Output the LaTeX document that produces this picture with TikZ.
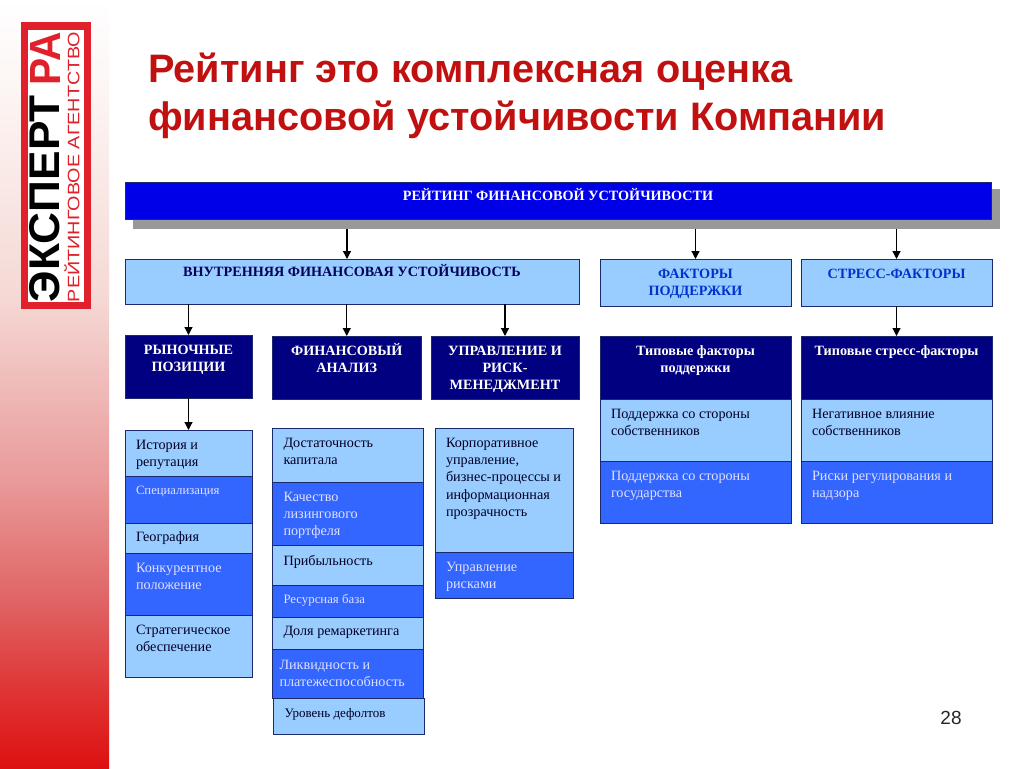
\documentclass[tikz,border=0pt]{standalone}
\usepackage{fontspec}
\setmainfont{Liberation Serif}
\newfontfamily\arialf{Liberation Sans}
\usetikzlibrary{arrows.meta}
\definecolor{topblue}{HTML}{0000E8}
\definecolor{lightb}{HTML}{99CCFF}
\definecolor{navy}{HTML}{000080}
\definecolor{midb}{HTML}{3366FF}
\definecolor{edgeb}{HTML}{1A2A6C}
\definecolor{titlered}{HTML}{C01010}
\definecolor{logored}{HTML}{E0202A}
\definecolor{subblue}{HTML}{0033CC}
\definecolor{fadea}{HTML}{DD1111}
\definecolor{fadeb}{HTML}{E03030}
\definecolor{fadec}{HTML}{E06565}
\definecolor{faded}{HTML}{E99A9A}
\definecolor{fadee}{HTML}{F5D8D4}
\definecolor{fadef}{HTML}{FCF4F2}
\pgfdeclareverticalshading{redfade}{100bp}{color(0bp)=(fadea); color(25bp)=(fadea); color(29.5bp)=(fadeb); color(36bp)=(fadec); color(43.75bp)=(faded); color(55.5bp)=(fadee); color(68.5bp)=(fadef); color(75bp)=(white); color(100bp)=(white)}
\tikzset{
  x=1pt,y=-1pt,
  cell/.style={draw=edgeb,line width=0.9pt,inner sep=0pt,outer sep=0pt,anchor=north west,font=\fontsize{14.2}{17.3}\selectfont},
  lightcell/.style={cell,fill=lightb,text=black!85!blue},
  midcell/.style={cell,fill=midb,text=white!88!blue},
  navycell/.style={cell,fill=navy,text=white},
  link/.style={draw=black,line width=1.2pt,-{Triangle[length=8pt,width=8pt]}},
}
% name, x1,y1,x2,y2, style, left pad, top pad, text
\newcommand{\cellbox}[9]{%
  \pgfmathsetlengthmacro{\cw}{#4-#2}\pgfmathsetlengthmacro{\ch}{#5-#3}%
  \node[#6] (#1) at (#2,#3) {\parbox[c][\ch][t]{\cw}{\vspace*{#8pt}\hspace*{0pt}\leftskip=#7pt\rightskip=4pt\relax\strut #9\strut}};%
}
\newcommand{\hdbox}[8]{%
  \pgfmathsetlengthmacro{\cw}{#4-#2}\pgfmathsetlengthmacro{\ch}{#5-#3}%
  \node[#6] (#1) at (#2,#3) {\parbox[c][\ch][t]{\cw}{\vspace*{#7pt}\centering\bfseries\strut #8\strut}};%
}
\begin{document}
\begin{tikzpicture}
\useasboundingbox (0,0) rectangle (1024,768);
\shade[shading=redfade] (0,0) rectangle (109,768);
% logo
\fill[logored] (21,22) rectangle (91,309);
\fill[white] (28,30) rectangle (84,302);
\node[rotate=90,inner sep=0pt,anchor=center] (logoa) at (45,198.5) {\resizebox{207pt}{30pt}{\arialf\bfseries ЭКСПЕРТ}};
\node[rotate=90,inner sep=0pt,anchor=center,text=logored] (logob) at (45,58.5) {\resizebox{53pt}{30pt}{\arialf\bfseries РА}};
\node[rotate=90,inner sep=0pt,anchor=center,text=logored] (logoc) at (72,167) {\resizebox{270pt}{15pt}{\arialf РЕЙТИНГОВОЕ АГЕНТСТВО}};
% title
\node[anchor=base west,inner sep=0pt,text=titlered,font=\arialf\bfseries\fontsize{39.7}{44}\selectfont] (t1) at (148,82) {Рейтинг это комплексная оценка};
\node[anchor=base west,inner sep=0pt,text=titlered,font=\arialf\bfseries\fontsize{39.7}{44}\selectfont] (t2) at (148,130.5) {финансовой устойчивости Компании};
% top bar
\fill[black!40] (133,189) rectangle (1000,229);
\coordinate (shadowbase) at (566,229);
\hdbox{top}{125}{182}{991}{219}{cell,fill=topblue,text=white}{6.5}{РЕЙТИНГ ФИНАНСОВОЙ УСТОЙЧИВОСТИ}
% level 2
\hdbox{vnutr}{125}{259}{579}{304}{lightcell,text=navy!70!black}{5.5}{ВНУТРЕННЯЯ ФИНАНСОВАЯ УСТОЙЧИВОСТЬ}
\hdbox{fakt}{600}{259}{791}{306}{lightcell,text=subblue}{7}{ФАКТОРЫ\\ПОДДЕРЖКИ}
\hdbox{stress}{801}{259}{992}{306}{lightcell,text=subblue}{7}{СТРЕСС-ФАКТОРЫ}
% level 3
\hdbox{rynok}{125}{335}{252}{398}{navycell}{7}{РЫНОЧНЫЕ\\ПОЗИЦИИ}
\hdbox{finan}{272.5}{336}{421}{399}{navycell}{7}{ФИНАНСОВЫЙ\\АНАЛИЗ}
\hdbox{upr}{431}{336}{579}{399}{navycell}{7}{УПРАВЛЕНИЕ И\\РИСК-\\МЕНЕДЖМЕНТ}
\hdbox{tipf}{600}{336}{791}{399}{navycell}{7}{Типовые факторы\\поддержки}
\hdbox{tips}{801}{336}{992}{399}{navycell}{7}{Типовые стресс-факторы}
% list 1
\cellbox{a1}{125}{430}{252}{476}{lightcell}{11}{7}{История и\\репутация}
\cellbox{a2}{125}{476}{252}{523}{midcell,font=\fontsize{12.7}{17.3}\selectfont}{11}{6}{Специализация}
\cellbox{a3}{125}{523}{252}{553}{lightcell}{11}{6}{География}
\cellbox{a4}{125}{553}{252}{615}{midcell}{11}{7}{Конкурентное\\положение}
\cellbox{a5}{125}{615}{252}{677}{lightcell}{11}{7}{Стратегическое\\обеспечение}
% list 2
\cellbox{b1}{272.5}{428}{423}{482}{lightcell}{11}{7}{Достаточность\\капитала}
\cellbox{b2}{272.5}{482}{423}{545}{midcell}{11}{7}{Качество\\лизингового\\портфеля}
\cellbox{b3}{272.5}{545}{423}{585}{lightcell}{11}{8}{Прибыльность}
\cellbox{b4}{272.5}{585}{423}{617}{midcell,font=\fontsize{12.8}{17.3}\selectfont}{11}{6}{Ресурсная база}
\cellbox{b5}{272.5}{617}{423}{649}{lightcell}{11}{6}{Доля ремаркетинга}
\cellbox{b6}{272.5}{649}{423}{698}{midcell}{7}{8}{Ликвидность и\\платежеспособность}
\cellbox{b7}{273.5}{698}{424}{734}{lightcell,font=\fontsize{13}{17.3}\selectfont}{11}{7}{Уровень дефолтов}
% list 3
\cellbox{c1}{435}{428}{573}{552}{lightcell}{11}{7}{Корпоративное\\управление,\\бизнес-процессы и\\информационная\\прозрачность}
\cellbox{c2}{435}{552}{573}{598}{midcell}{11}{7}{Управление\\рисками}
% right lists
\cellbox{d1}{600}{399}{791}{461}{lightcell}{11}{7}{Поддержка со стороны\\собственников}
\cellbox{d2}{600}{461}{791}{523}{midcell}{11}{7}{Поддержка со стороны\\государства}
\cellbox{e1}{801}{399}{992}{461}{lightcell}{11}{7}{Негативное влияние\\собственников}
\cellbox{e2}{801}{461}{992}{523}{midcell}{11}{7}{Риски регулирования и\\надзора}
% connectors
\draw[link] ([xshift=-219pt]shadowbase) -- ([xshift=-5pt]vnutr.north);
\draw[link] (shadowbase -| fakt.north) -- (fakt.north);
\draw[link] (shadowbase -| stress.north) -- (stress.north);
\draw[link] (vnutr.south -| rynok.north) -- (rynok.north);
\draw[link] (vnutr.south -| finan.north) -- (finan.north);
\draw[link] (vnutr.south -| upr.north) -- (upr.north);
\draw[link] (stress.south) -- (tips.north);
\draw[link] (rynok.south) -- (a1.north);
% page number
\node[anchor=base,inner sep=0pt,text=black!85,font=\arialf\fontsize{19}{22}\selectfont] (pg) at (951,724) {28};
\end{tikzpicture}
\end{document}
